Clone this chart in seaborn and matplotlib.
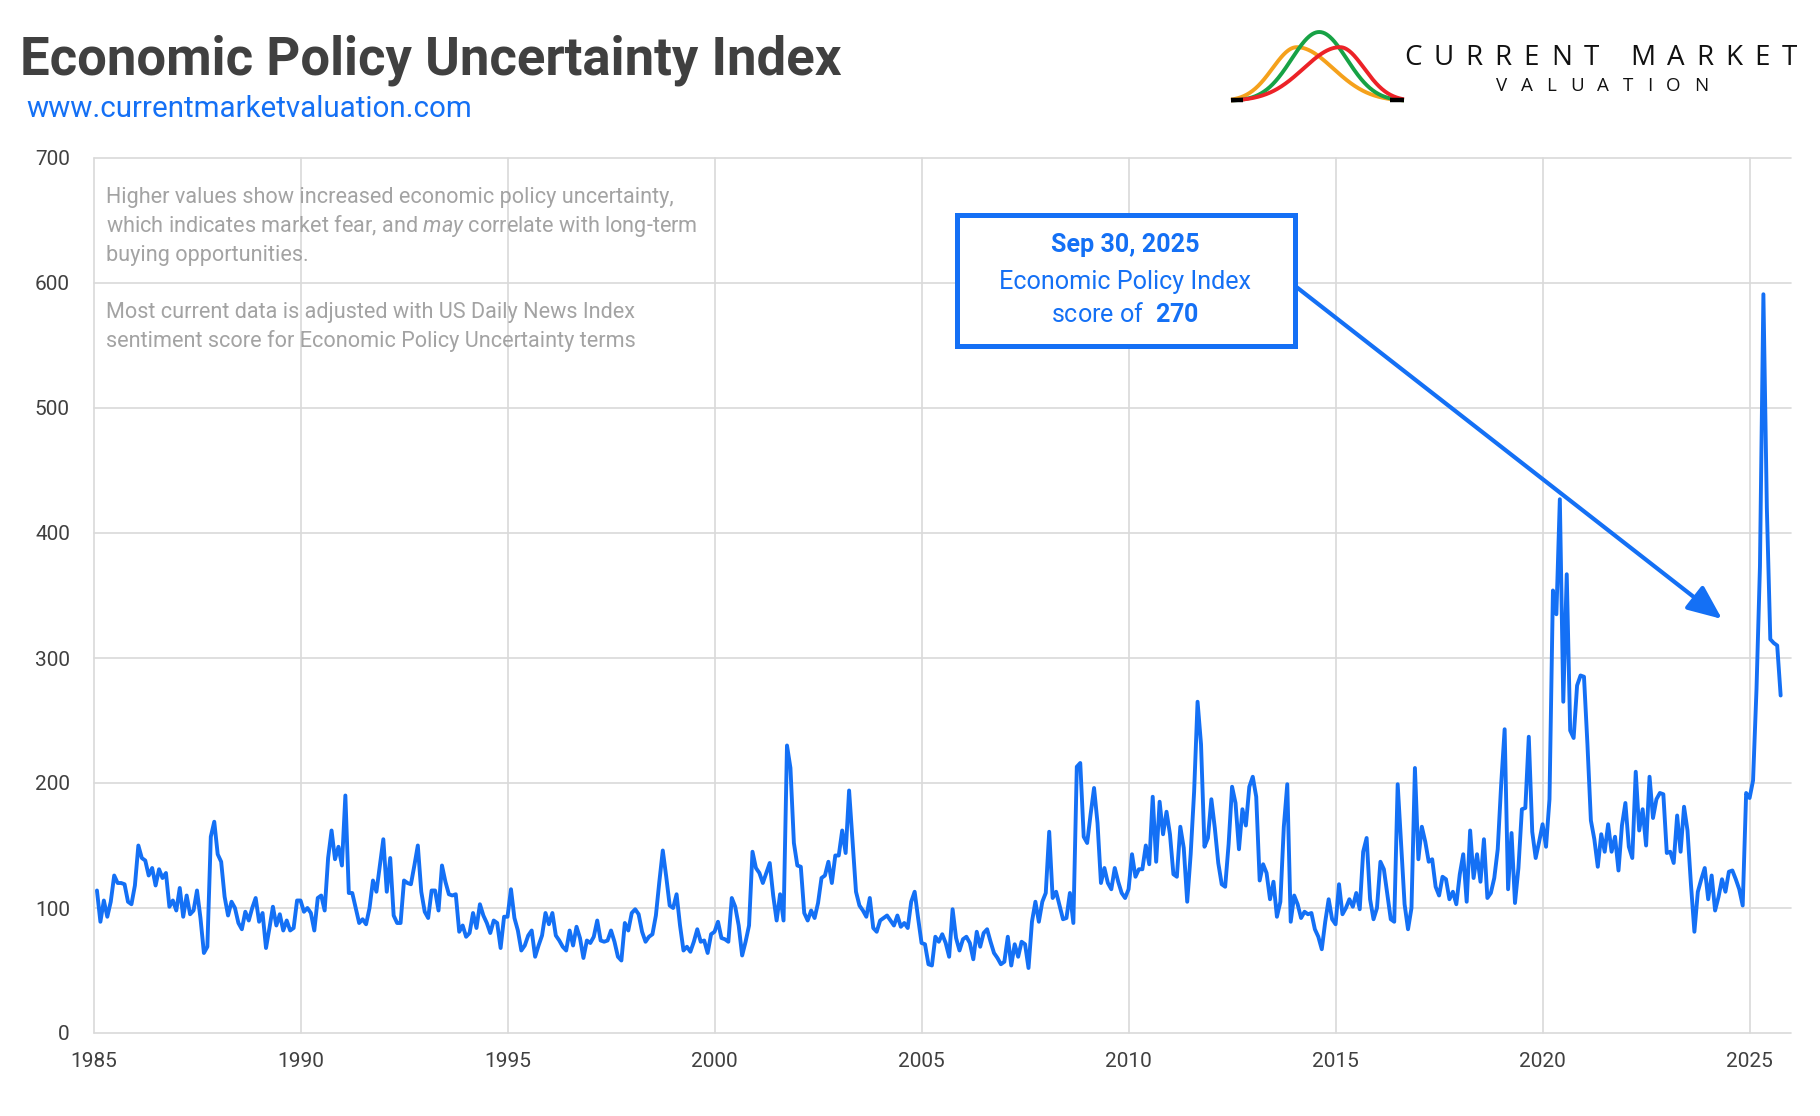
import numpy as np
import pandas as pd
import matplotlib
matplotlib.use("Agg")
import matplotlib.pyplot as plt
from matplotlib.patches import Rectangle, FancyArrowPatch
import seaborn as sns

# ---------------- data (monthly, month-end) ----------------
epu_1985_1989 = [
    114, 89, 106, 93, 105, 126, 120, 120, 119, 105, 103, 118,
    150, 140, 138, 126, 132, 118, 131, 124, 128, 101, 106, 98,
    116, 93, 110, 95, 98, 114, 92, 64, 69, 157, 169, 143,
    137, 109, 94, 105, 100, 88, 83, 97, 90, 100, 108, 89,
    96, 68, 84, 101, 86, 95, 82, 90, 82, 84, 106, 106]
epu_1990_1994 = [
    97, 100, 96, 82, 108, 110, 98, 140, 162, 139, 149, 134,
    190, 112, 112, 100, 88, 91, 87, 100, 122, 113, 134, 155,
    113, 140, 94, 88, 88, 122, 120, 119, 134, 150, 113, 97,
    92, 114, 114, 98, 134, 121, 111, 110, 111, 81, 86, 77,
    80, 96, 84, 103, 94, 88, 80, 90, 88, 68, 93, 93]
epu_1995_1999 = [
    115, 92, 82, 66, 70, 78, 82, 61, 70, 78, 96, 87,
    96, 78, 74, 69, 66, 82, 70, 85, 76, 60, 74, 72,
    77, 90, 74, 73, 74, 82, 73, 61, 58, 88, 82, 96,
    99, 95, 81, 73, 77, 79, 94, 121, 146, 125, 102, 100,
    111, 86, 66, 69, 65, 73, 83, 73, 74, 64, 79, 81]
epu_2000_2004 = [
    89, 76, 75, 73, 108, 101, 86, 62, 73, 86, 145, 132,
    128, 120, 128, 136, 110, 90, 111, 90, 230, 212, 152, 134,
    133, 96, 90, 98, 92, 104, 124, 126, 137, 120, 142, 142,
    162, 144, 194, 153, 113, 102, 98, 93, 108, 84, 81, 90,
    92, 94, 90, 86, 94, 85, 88, 84, 105, 113, 92, 72]
epu_2005_2009 = [
    71, 55, 54, 77, 73, 79, 72, 61, 99, 76, 66, 75,
    77, 72, 59, 81, 69, 80, 83, 73, 64, 60, 55, 57,
    77, 54, 71, 61, 73, 71, 52, 89, 105, 89, 105, 112,
    161, 108, 113, 102, 91, 92, 112, 88, 213, 216, 157, 152,
    175, 196, 168, 120, 132, 120, 115, 132, 121, 112, 108, 115]
epu_2010_2014 = [
    143, 125, 131, 131, 150, 135, 189, 137, 185, 159, 177, 159,
    127, 125, 165, 148, 105, 143, 193, 265, 231, 149, 156, 187,
    164, 136, 119, 117, 151, 197, 184, 147, 179, 166, 197, 205,
    189, 122, 135, 128, 107, 121, 93, 105, 165, 199, 89, 110,
    103, 92, 97, 95, 96, 83, 77, 67, 89, 107, 91, 87]
epu_2015_2019 = [
    119, 95, 100, 107, 101, 112, 99, 145, 156, 107, 91, 100,
    137, 131, 111, 91, 89, 199, 151, 103, 83, 100, 212, 139,
    165, 153, 137, 139, 117, 110, 125, 123, 107, 113, 103, 127,
    143, 105, 162, 124, 143, 121, 155, 108, 112, 124, 147, 199,
    243, 115, 160, 104, 132, 179, 180, 237, 161, 140, 153, 167]
epu_2020_2024 = [
    149, 187, 354, 335, 427, 265, 367, 242, 236, 278, 286, 285,
    231, 170, 155, 133, 159, 145, 167, 145, 157, 130, 166, 184,
    149, 140, 209, 162, 179, 150, 205, 172, 187, 192, 191, 144,
    145, 136, 174, 145, 181, 162, 119, 81, 113, 123, 132, 107,
    126, 98, 109, 123, 113, 129, 130, 123, 115, 102, 192, 188]
epu_2025 = [202, 275, 373, 591, 420, 315, 312, 310, 270]

start_year = 1985
x_ticks = [1985, 1990, 1995, 2000, 2005, 2010, 2015, 2020, 2025]
y_ticks = [0, 100, 200, 300, 400, 500, 600, 700]

title_text = "Economic Policy Uncertainty Index"
url_text = "www.currentmarketvaluation.com"
note_lines = [
    "Higher values show increased economic policy uncertainty,",
    r"which indicates market fear, and $\mathit{may}$ correlate with long-term",
    "buying opportunities.",
    "Most current data is adjusted with US Daily News Index",
    "sentiment score for Economic Policy Uncertainty terms",
]
box_lines = ["Sep 30, 2025", "Economic Policy Index", r"score of  $\mathbf{270}$"]

values = np.concatenate([epu_1985_1989, epu_1990_1994, epu_1995_1999, epu_2000_2004,
                         epu_2005_2009, epu_2010_2014, epu_2015_2019, epu_2020_2024, epu_2025])
months = np.arange(len(values))
df = pd.DataFrame({"year": start_year + (months + 1) / 12.0, "epu": values})

# ---------------- style ----------------
BLUE = "#1470f5"
DARK = "#404040"
GRID = "#d9d9d9"
NOTE = "#a3a3a3"

sns.set_theme(style="white")
plt.rcParams["font.family"] = ["Roboto", "DejaVu Sans"]
plt.rcParams["mathtext.fontset"] = "custom"
plt.rcParams["mathtext.rm"] = "Roboto"
plt.rcParams["mathtext.it"] = "Roboto:italic"
plt.rcParams["mathtext.bf"] = "Roboto:bold"

W, H = 1820, 1116
fig = plt.figure(figsize=(W / 100, H / 100), dpi=100, facecolor="white")
renderer = fig.canvas.get_renderer()


def fx(px):
    return px / W


def fy(py):
    return 1 - py / H


ax = fig.add_axes([fx(93.5), fy(1033), (1791 - 93.5) / W, (1033 - 158) / H])
sns.lineplot(data=df, x="year", y="epu", color=BLUE, linewidth=2.8, ax=ax, zorder=3)
ax.set_xlim(1985, 2026)
ax.set_ylim(0, 700)
ax.set_xticks(x_ticks)
ax.set_yticks(y_ticks)
ax.set_xticklabels([str(t) for t in x_ticks])
ax.set_yticklabels([str(t) for t in y_ticks])
ax.set_xlabel("")
ax.set_ylabel("")
ax.grid(True, color=GRID, linewidth=1.2)
ax.set_axisbelow(True)
for l in ax.get_xgridlines() + ax.get_ygridlines():
    l.set_clip_on(False)
for s in ax.spines.values():
    s.set_visible(False)
ax.tick_params(axis="x", length=6, width=1.2, color=GRID, pad=8, labelsize=15, labelcolor=DARK)
ax.tick_params(axis="y", length=0, pad=17, labelsize=15, labelcolor=DARK)


def fit(t, target):
    w = t.get_window_extent(renderer).width
    t.set_fontsize(t.get_fontsize() * target / w)


# title + url
t = fig.text(fx(20), fy(74), title_text, fontsize=38, fontweight="bold", color=DARK, va="baseline")
fit(t, 821)
u = fig.text(fx(26), fy(117), url_text, fontsize=20, color=BLUE, va="baseline")
fit(u, 444)

# notes
note_baselines = [203, 232, 260.5, 318.5, 347]
nt = []
for line, b in zip(note_lines, note_baselines):
    nt.append(fig.text(fx(106.5), fy(b), line, fontsize=14, color=NOTE, va="baseline", zorder=5))
fit(nt[0], 569)
for o in nt[1:]:
    o.set_fontsize(nt[0].get_fontsize())

# annotation box + arrow
arrow = FancyArrowPatch((fx(1290), fy(282)), (fx(1722), fy(619)), transform=fig.transFigure,
                        arrowstyle="-|>,head_length=1.05,head_width=0.45", mutation_scale=20,
                        color=BLUE, linewidth=3.0, shrinkA=0, shrinkB=0, zorder=4)
fig.add_artist(arrow)
box = Rectangle((fx(956.5), fy(345.5)), (1294.5 - 956.5) / W, (345.5 - 215.2) / H,
                transform=fig.transFigure, facecolor="white", edgecolor=BLUE,
                linewidth=3.6, zorder=5)
fig.add_artist(box)
bt = []
for line, b, wgt in zip(box_lines, [251.7, 289, 321.7], ["bold", "normal", "normal"]):
    bt.append(fig.text(fx(1125), fy(b), line, fontsize=17, fontweight=wgt, color=BLUE,
                       ha="center", va="baseline", zorder=6))
fit(bt[1], 252)
for o in (bt[0], bt[2]):
    o.set_fontsize(bt[1].get_fontsize())

# logo curves
lax = fig.add_axes([fx(1228), fy(106), (1406 - 1228) / W, (106 - 28) / H])
lax.axis("off")
lax.set_xlim(-3 / 173, 1 + 2 / 173)
lax.set_ylim(-5 / 69, 1 + 4 / 69)
uu = np.linspace(0, 1, 300)


def bell(m, sl, sr, h):
    s = np.where(uu < m, sl, sr)
    return h * np.exp(-0.5 * ((uu - m) / s) ** 2)


lax.plot(uu, bell(0.38, 0.14, 0.21, 0.78), color="#f5a11c", lw=2.8, solid_capstyle="butt")
lax.plot(uu, bell(0.51, 0.16, 0.16, 1.0), color="#17a245", lw=2.8, solid_capstyle="butt")
lax.plot(uu, bell(0.63, 0.21, 0.14, 0.78), color="#ec2227", lw=2.8, solid_capstyle="butt")
lax.plot([0, 0.07], [0.01, 0.01], color="black", lw=3.2, solid_capstyle="butt")
lax.plot([0.92, 1.0], [0.01, 0.01], color="black", lw=3.2, solid_capstyle="butt")


def tracked(text, x0, x1, base, size, **kw):
    objs = []
    widths = []
    for ch in text:
        if ch == " ":
            objs.append(None)
            widths.append(None)
            continue
        o = fig.text(0, fy(base), ch, fontsize=size, va="baseline", ha="left", **kw)
        objs.append(o)
        widths.append(o.get_window_extent(renderer).width)
    space = 0.25 * size * 100 / 72
    total = sum(w if w is not None else space for w in widths)
    trk = (x1 - x0 - total) / (len(text) - 1)
    x = x0
    for o, w in zip(objs, widths):
        if o is None:
            x += space + trk
            continue
        o.set_x(fx(x))
        x += w + trk


tracked("CURRENT MARKET", 1404, 1797, 65, 20, color="#111111",
        family=["Open Sans", "DejaVu Sans"], fontweight="normal")
tracked("VALUATION", 1496, 1708, 90.7, 13.5, color="#111111",
        family=["Open Sans", "DejaVu Sans"], fontweight="normal")

fig.savefig("out.png", dpi=100, facecolor="white")
